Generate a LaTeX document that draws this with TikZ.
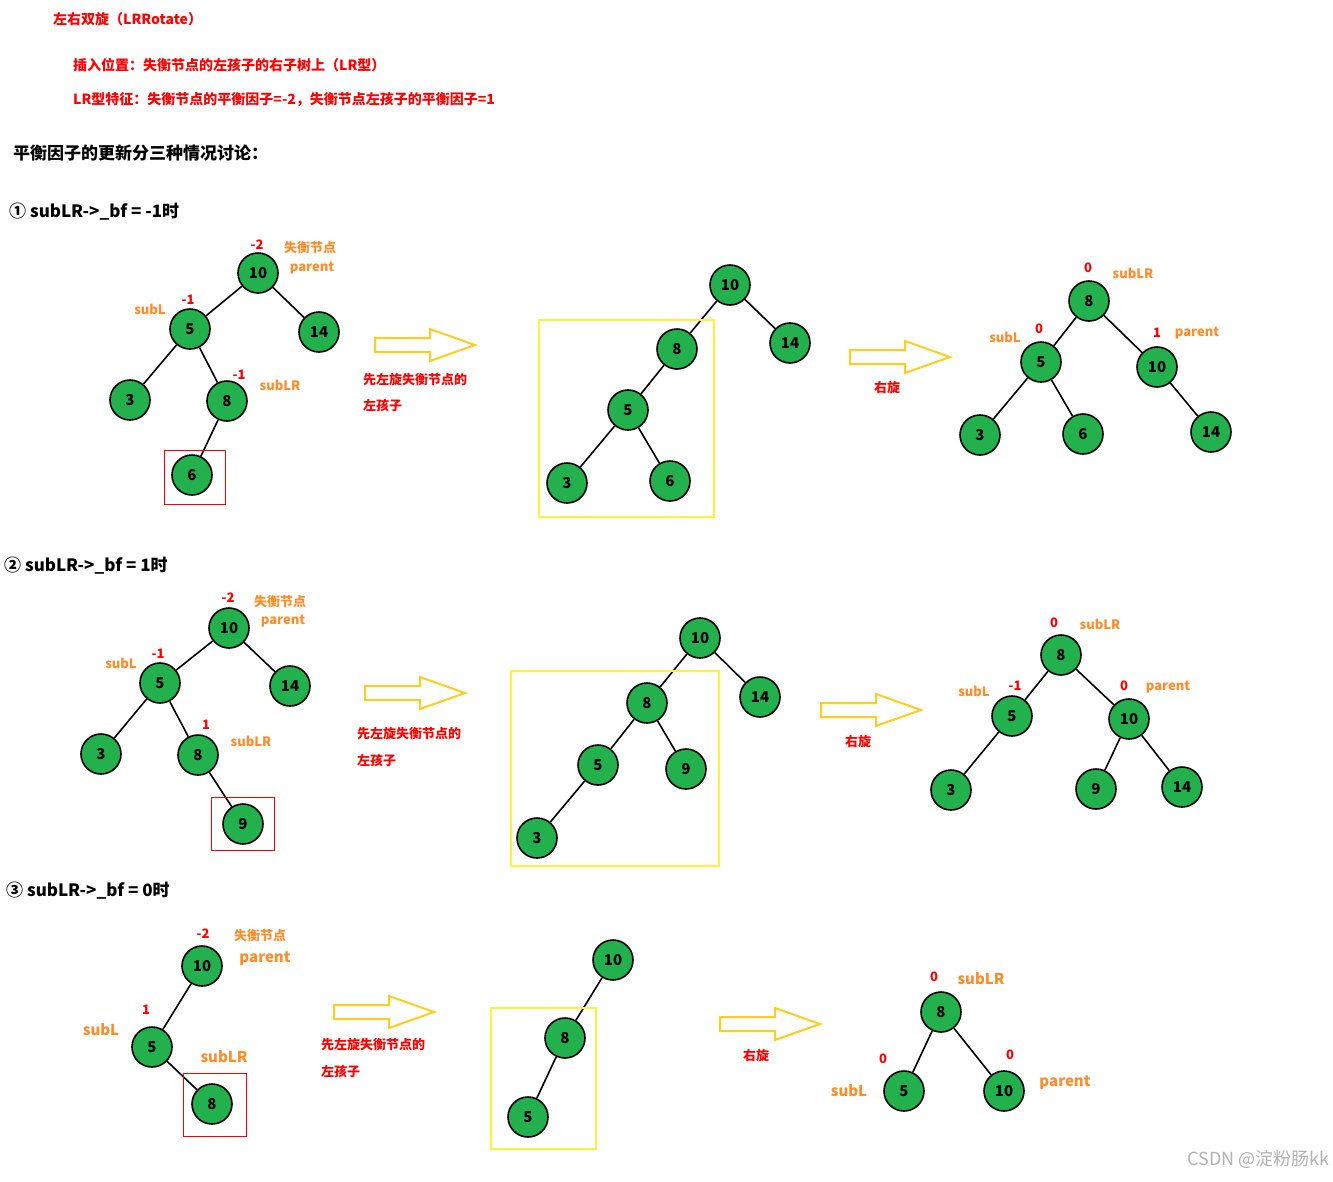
\documentclass[tikz,border=0pt]{standalone}
\usepackage{fontspec}
\setmainfont{Noto Sans CJK SC}
\begin{document}
\begin{tikzpicture}[x=1pt,y=-1pt,
 every node/.style={font=\bfseries\fontsize{13}{15}\selectfont},
 n/.style={circle,draw=black,line width=1.6pt,fill=nodegreen,minimum size=40pt,inner sep=0pt,font=\bfseries\fontsize{15}{17}\selectfont},
 e/.style={line width=1.6pt},
 r/.style={text=red,inner sep=0pt},
 o/.style={text=orangec,inner sep=0pt},
 rt/.style={text=red,inner sep=0pt,anchor=west,font=\bfseries\fontsize{14}{16}\selectfont},
 hd/.style={inner sep=0pt,anchor=west,font=\bfseries\fontsize{17}{20}\selectfont},
 rbox/.style={draw=red,line width=1pt},
 ybox/.style={draw=yboxc,line width=1.4pt},
 harrow/.pic={\draw[draw=arrowc,line width=2pt,fill=white,line join=miter] (0,-7)--(55,-7)--(55,-16)--(100,0)--(55,16)--(55,7)--(0,7)--cycle;}]
\definecolor{nodegreen}{RGB}{34,177,76}
\definecolor{orangec}{RGB}{255,140,40}
\definecolor{arrowc}{RGB}{255,205,30}
\definecolor{yboxc}{RGB}{255,240,60}
\useasboundingbox (0,0) rectangle (1333,1181);
% headers
\node[rt] at (53,19) {左右双旋（LRRotate）};
\node[rt] at (73,65) {插入位置：失衡节点的左孩子的右子树上（LR型）};
\node[rt] at (73,100) {LR型特征：失衡节点的平衡因子=-2，失衡节点左孩子的平衡因子=1};
\node[hd] at (13,153) {平衡因子的更新分三种情况讨论：};
\node[hd] at (9,212) {① subLR->\_bf = -1时};
\node[hd] at (4,566) {② subLR->\_bf = 1时};
\node[hd] at (6,891) {③ subLR->\_bf = 0时};
\node[text=gray!60,anchor=east,inner sep=0pt,font=\fontsize{18}{20}\selectfont] at (1330,1159) {CSDN @淀粉肠kk};
% ===== case 1
\node[n] (a10) at (258,273) {10}; \node[n] (a14) at (319,332) {14};
\node[n] (a5) at (190,329) {5}; \node[n] (a3) at (130,400) {3};
\node[n] (a8) at (227,401) {8}; \node[n] (a6) at (192,475) {6};
\draw[e] (a10)--(a14) (a10)--(a5) (a5)--(a3) (a5)--(a8) (a8)--(a6);
\draw[rbox] (164,450) rectangle (225,504);
\node[r] at (257,245) {-2}; \node[o] at (310,248) {失衡节点}; \node[o] at (312,268) {parent};
\node[o] at (150,309) {subL}; \node[r] at (188,300) {-1};
\node[r] at (239,375) {-1}; \node[o] at (280,385) {subLR};
\pic at (375,345) {harrow};
\node[r,anchor=west] at (363,380) {先左旋失衡节点的}; \node[r,anchor=west] at (363,405) {左孩子};
\node[n] (b10) at (730,285) {10}; \node[n] (b14) at (790,343) {14};
\node[n] (b8) at (677,349) {8}; \node[n] (b5) at (628,410) {5};
\node[n] (b3) at (567,483) {3}; \node[n] (b6) at (670,481) {6};
\draw[e] (b10)--(b14) (b10)--(b8) (b8)--(b5) (b5)--(b3) (b5)--(b6);
\draw[ybox] (539,320) rectangle (714,517);
\pic at (850,357) {harrow};
\node[r] at (887,388) {右旋};
\node[n] (c8) at (1089,301) {8}; \node[n] (c5) at (1041,362) {5};
\node[n] (c10) at (1157,367) {10}; \node[n] (c3) at (980,435) {3};
\node[n] (c6) at (1083,434) {6}; \node[n] (c14) at (1211,432) {14};
\draw[e] (c8)--(c5) (c8)--(c10) (c5)--(c3) (c5)--(c6) (c10)--(c14);
\node[r] at (1088,268) {0}; \node[o] at (1133,273) {subLR};
\node[o] at (1005,337) {subL}; \node[r] at (1039,329) {0};
\node[r] at (1157,333) {1}; \node[o] at (1197,333) {parent};
% ===== case 2
\node[n] (d10) at (229,628) {10}; \node[n] (d14) at (290,686) {14};
\node[n] (d5) at (160,683) {5}; \node[n] (d3) at (101,754) {3};
\node[n] (d8) at (198,755) {8}; \node[n] (d9) at (243,824) {9};
\draw[e] (d10)--(d14) (d10)--(d5) (d5)--(d3) (d5)--(d8) (d8)--(d9);
\draw[rbox] (211,797) rectangle (274,850);
\node[r] at (228,598) {-2}; \node[o] at (280,602) {失衡节点}; \node[o] at (283,621) {parent};
\node[o] at (121,663) {subL}; \node[r] at (158,654) {-1};
\node[r] at (206,725) {1}; \node[o] at (251,741) {subLR};
\pic at (365,693) {harrow};
\node[r,anchor=west] at (357,734) {先左旋失衡节点的}; \node[r,anchor=west] at (357,760) {左孩子};
\node[n] (e10) at (700,638) {10}; \node[n] (e14) at (760,697) {14};
\node[n] (e8) at (647,703) {8}; \node[n] (e5) at (598,765) {5};
\node[n] (e9) at (686,769) {9}; \node[n] (e3) at (537,838) {3};
\draw[e] (e10)--(e14) (e10)--(e8) (e8)--(e5) (e8)--(e9) (e5)--(e3);
\draw[ybox] (511,671) rectangle (719,866);
\pic at (821,710) {harrow};
\node[r] at (858,742) {右旋};
\node[n] (f8) at (1061,655) {8}; \node[n] (f5) at (1012,716) {5};
\node[n] (f10) at (1129,719) {10}; \node[n] (f3) at (951,790) {3};
\node[n] (f9) at (1096,789) {9}; \node[n] (f14) at (1182,787) {14};
\draw[e] (f8)--(f5) (f8)--(f10) (f5)--(f3) (f10)--(f9) (f10)--(f14);
\node[r] at (1054,623) {0}; \node[o] at (1100,624) {subLR};
\node[o] at (974,691) {subL}; \node[r] at (1015,686) {-1};
\node[r] at (1124,686) {0}; \node[o] at (1168,687) {parent};
% ===== case 3
\node[n] (g10) at (202,966) {10}; \node[n] (g5) at (152,1047) {5};
\node[n] (g8) at (212,1104) {8};
\draw[e] (g10)--(g5) (g5)--(g8);
\draw[rbox] (183,1073) rectangle (246,1136);
\node[r] at (203,934) {-2}; \node[o] at (260,936) {失衡节点}; \node[o,font=\bfseries\fontsize{15}{17}\selectfont] at (265,959) {parent};
\node[r] at (146,1010) {1}; \node[o,font=\bfseries\fontsize{15}{17}\selectfont] at (101,1030) {subL};
\node[o,font=\bfseries\fontsize{15}{17}\selectfont] at (224,1057) {subLR};
\pic at (334,1012) {harrow};
\node[r,anchor=west] at (321,1045) {先左旋失衡节点的}; \node[r,anchor=west] at (321,1071) {左孩子};
\node[n] (h10) at (613,960) {10}; \node[n] (h8) at (565,1038) {8};
\node[n] (h5) at (528,1117) {5};
\draw[e] (h10)--(h8) (h8)--(h5);
\draw[ybox] (491,1008) rectangle (596,1149);
\pic at (720,1024) {harrow};
\node[r] at (756,1056) {右旋};
\node[n] (k8) at (941,1012) {8}; \node[n] (k5) at (904,1091) {5};
\node[n] (k10) at (1004,1091) {10};
\draw[e] (k8)--(k5) (k8)--(k10);
\node[r] at (934,977) {0}; \node[o,font=\bfseries\fontsize{15}{17}\selectfont] at (981,979) {subLR};
\node[r] at (883,1059) {0}; \node[o,font=\bfseries\fontsize{15}{17}\selectfont] at (849,1091) {subL};
\node[r] at (1010,1055) {0}; \node[o,font=\bfseries\fontsize{15}{17}\selectfont] at (1065,1083) {parent};
\end{tikzpicture}
\end{document}
